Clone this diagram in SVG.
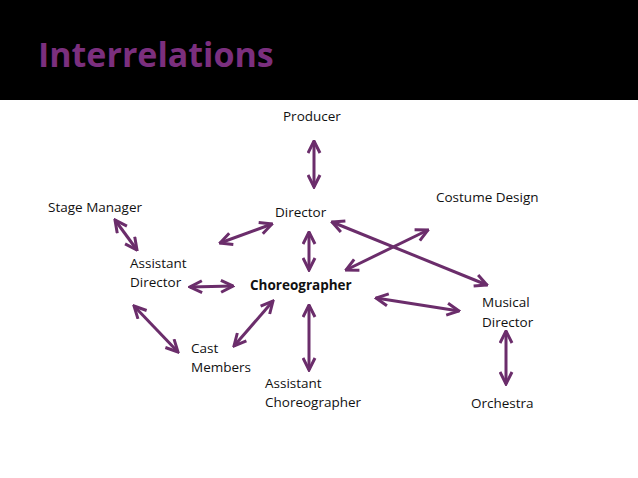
<svg xmlns="http://www.w3.org/2000/svg" width="638" height="478" viewBox="0 0 638 478">
<style>
text{font-family:"Open Sans","Liberation Sans",sans-serif;font-size:13.5px;fill:#111}
.c line{stroke:#6b2d6b;stroke-width:3;marker-start:url(#h);marker-end:url(#h)}
.c line.i{stroke:#c9a6c9;stroke-width:1;marker:none}
</style>
<defs><marker id="h" viewBox="0 0 10 10" refX="9" refY="5" markerWidth="5" markerHeight="5" orient="auto-start-reverse" markerUnits="strokeWidth"><path d="M1,1 L9,5 L1,9" fill="none" stroke="#6b2d6b" stroke-width="2"/></marker></defs>
<rect width="638" height="478" fill="#fff"/>
<rect width="638" height="100" fill="#000"/>
<text x="38" y="67" style="font-size:34px;font-weight:bold;fill:#7b2f7e">Interrelations</text>
<g class="c" id="connectors">
<line x1="314" y1="141" x2="314" y2="187"/>
<line x1="115" y1="220" x2="137" y2="250"/>
<line x1="220" y1="243" x2="272" y2="224"/>
<line x1="309" y1="232" x2="309" y2="270"/>
<line x1="428" y1="230" x2="346" y2="270"/>
<line x1="332" y1="222" x2="487" y2="285"/>
<line x1="190" y1="287" x2="233" y2="286"/>
<line x1="376" y1="298" x2="459" y2="311"/>
<line x1="134" y1="306" x2="178" y2="352"/>
<line x1="234" y1="346" x2="273" y2="301"/>
<line x1="309" y1="305" x2="309" y2="370"/>
<line x1="506" y1="331" x2="506" y2="384"/>
</g>
<g id="producer"><text x="283" y="121">Producer</text></g>
<g id="stage"><text x="48" y="212">Stage Manager</text></g>
<g id="director"><text x="275" y="217">Director</text></g>
<g id="costume"><text x="436" y="202">Costume Design</text></g>
<g id="asstdir"><text x="130" y="268">Assistant</text><text x="130" y="287">Director</text></g>
<g id="choreo"><text x="250" y="290" style="font-weight:bold">Choreographer</text></g>
<g id="musical"><text x="482" y="307">Musical</text><text x="482" y="327">Director</text></g>
<g id="cast"><text x="191" y="353">Cast</text><text x="191" y="372">Members</text></g>
<g id="asstch"><text x="265" y="388">Assistant</text><text x="265" y="407">Choreographer</text></g>
<g id="orch"><text x="471" y="408">Orchestra</text></g>
</svg>
